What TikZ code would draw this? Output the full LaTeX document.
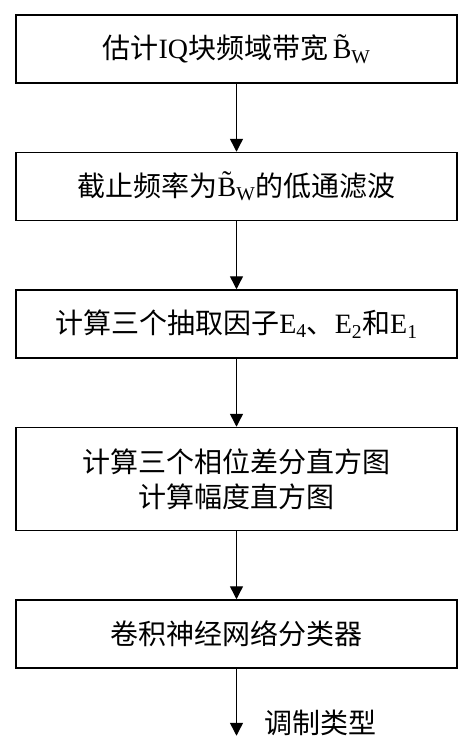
\documentclass[tikz,border=0pt]{standalone}
\usepackage{fontspec}
\setmainfont{Liberation Serif}
\newfontfamily\cjk{Noto Sans CJK SC}
\usepackage{tikz}
\usetikzlibrary{arrows.meta,positioning}
\newcommand{\zh}[1]{{\cjk #1}}
\newcommand{\bw}{\~{B}\textsubscript{W}}
\tikzset{
  flow/box/.style={draw, line width=1.5pt, minimum width=441pt, minimum height=68pt, align=center, inner sep=2pt, font=\fontsize{28}{35}\selectfont},
  flow/line/.style={line width=1.4pt, -{Triangle[length=13pt,width=13pt]}},
  flow/label/.style={inner sep=0pt, font=\fontsize{28}{35}\selectfont}
}

\begin{document}
\begin{tikzpicture}[node distance=68pt]
  \useasboundingbox (0,0) rectangle (474pt,-742pt);

  \node[flow/box] (est) at (236.5pt,-49pt) {\zh{估计}IQ\zh{块频域带宽}\,\bw};
  \node[flow/box, below=of est] (lpf) {\zh{截止频率为}\bw\zh{的低通滤波}};
  \node[flow/box, below=of lpf] (dec) {\zh{计算三个抽取因子}E\textsubscript{4}\zh{、}E\textsubscript{2}\zh{和}E\textsubscript{1}};
  \node[flow/box, below=of dec, minimum height=103pt] (hist) {\zh{计算三个相位差分直方图}\\\zh{计算幅度直方图}};
  \node[flow/box, below=of hist] (cnn) {\zh{卷积神经网络分类器}};
  \coordinate[below=67pt of cnn.south] (out);
  \node[flow/label, anchor=west] (type) at ([xshift=28pt,yshift=13pt]out) {\zh{调制类型}};

  \draw[flow/line] (est) -- (lpf);
  \draw[flow/line] (lpf) -- (dec);
  \draw[flow/line] (dec) -- (hist);
  \draw[flow/line] (hist) -- (cnn);
  \draw[flow/line] (cnn) -- (out);
\end{tikzpicture}
\end{document}
